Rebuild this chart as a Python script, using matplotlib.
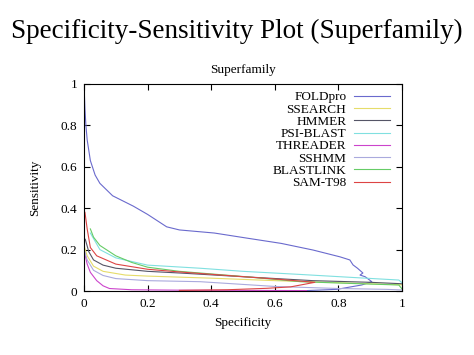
import matplotlib
matplotlib.use('Agg')
import matplotlib.pyplot as plt

plt.rcParams['font.family'] = 'Liberation Serif'

# curves (specificity, sensitivity)
foldpro_x = [0.0, 0.003, 0.006, 0.01, 0.02, 0.035, 0.05, 0.09, 0.155, 0.2, 0.26, 0.30, 0.41, 0.51,
             0.62, 0.72, 0.805, 0.836, 0.846, 0.86, 0.877, 0.868, 0.884, 0.905, 0.873, 0.795, 0.7]
foldpro_y = [1.0, 0.88, 0.8, 0.73, 0.63, 0.56, 0.52, 0.46, 0.41, 0.37, 0.31, 0.295, 0.28, 0.256,
             0.23, 0.198, 0.165, 0.15, 0.126, 0.11, 0.087, 0.077, 0.069, 0.045, 0.029, 0.008, 0.002]

ssearch_x = [0.0, 0.01, 0.03, 0.06, 0.13, 0.2, 0.4, 0.6, 0.8, 1.0]
ssearch_y = [0.22, 0.17, 0.12, 0.095, 0.077, 0.072, 0.062, 0.05, 0.04, 0.03]

hmmer_x = [0.004, 0.015, 0.03, 0.06, 0.1, 0.2, 0.3, 0.5, 0.72, 0.9, 1.0]
hmmer_y = [0.25, 0.19, 0.15, 0.125, 0.11, 0.095, 0.087, 0.069, 0.05, 0.042, 0.035]

psiblast_x = [0.02, 0.05, 0.1, 0.2, 0.365, 0.5, 0.68, 0.85, 0.99, 1.0]
psiblast_y = [0.28, 0.2, 0.16, 0.125, 0.11, 0.095, 0.08, 0.065, 0.053, 0.04]

threader_x = [0.0, 0.01, 0.02, 0.04, 0.06, 0.08, 0.15, 0.3, 0.5, 0.7]
threader_y = [0.2, 0.13, 0.09, 0.05, 0.025, 0.012, 0.006, 0.004, 0.003, 0.002]

sshmm_x = [0.0, 0.01, 0.03, 0.06, 0.1, 0.2, 0.365, 0.6, 0.8, 0.95, 1.0]
sshmm_y = [0.2, 0.15, 0.1, 0.075, 0.06, 0.05, 0.045, 0.022, 0.012, 0.008, 0.005]

blastlink_x = [0.02, 0.03, 0.05, 0.1, 0.15, 0.2, 0.3, 0.5, 0.68, 0.85, 0.99, 1.0]
blastlink_y = [0.30, 0.26, 0.22, 0.17, 0.138, 0.115, 0.095, 0.07, 0.045, 0.036, 0.029, 0.01]

samt98_x = [0.003, 0.01, 0.02, 0.04, 0.1, 0.2, 0.3, 0.45, 0.6, 0.726, 0.65, 0.575, 0.45, 0.3]
samt98_y = [0.38, 0.30, 0.21, 0.17, 0.13, 0.105, 0.092, 0.075, 0.058, 0.042, 0.02, 0.013, 0.006, 0.003]

series = [
    ('FOLDpro', foldpro_x, foldpro_y, '#6a6acd'),
    ('SSEARCH', ssearch_x, ssearch_y, '#e6dc6a'),
    ('HMMER', hmmer_x, hmmer_y, '#555566'),
    ('PSI-BLAST', psiblast_x, psiblast_y, '#80e0e0'),
    ('THREADER', threader_x, threader_y, '#cc44cc'),
    ('SSHMM', sshmm_x, sshmm_y, '#aaaadd'),
    ('BLASTLINK', blastlink_x, blastlink_y, '#66cc66'),
    ('SAM-T98', samt98_x, samt98_y, '#dd4444'),
]

xticks = [0, 0.2, 0.4, 0.6, 0.8, 1]
yticks = [0, 0.2, 0.4, 0.6, 0.8, 1]

fig = plt.figure(figsize=(4.74, 3.55), dpi=100)
ax = fig.add_axes([84/474, 1 - 291/355, 318/474, 207/355])

for name, xs, ys, col in series:
    ax.plot(xs, ys, color=col, lw=0.8, label=name)

ax.set_xlim(0, 1)
ax.set_ylim(0, 1)
ax.set_xticks(xticks)
ax.set_yticks(yticks)
ax.set_xticklabels(['0', '0.2', '0.4', '0.6', '0.8', '1'])
ax.set_yticklabels(['0', '0.2', '0.4', '0.6', '0.8', '1'])
ax.tick_params(direction='in', length=4, width=0.8, top=True, right=True, labelsize=9.5, pad=5)
for sp in ax.spines.values():
    sp.set_linewidth(0.8)

ax.set_xlabel('Specificity', fontsize=9.5, labelpad=5)
ax.set_ylabel('Sensitivity', fontsize=9.5, labelpad=14)
ax.set_title('Superfamily', fontsize=9.5, pad=8)

leg = ax.legend(loc='upper right', bbox_to_anchor=(0.962, 0.965), frameon=False,
                markerfirst=False, fontsize=9.5, handlelength=2.7, handletextpad=0.6,
                labelspacing=0.0, borderpad=0, borderaxespad=0)

fig.text(0.5, 1 - 31/355, 'Specificity-Sensitivity Plot (Superfamily)', fontsize=19.5,
         ha='center', va='center')

fig.savefig('out.png', dpi=100)
